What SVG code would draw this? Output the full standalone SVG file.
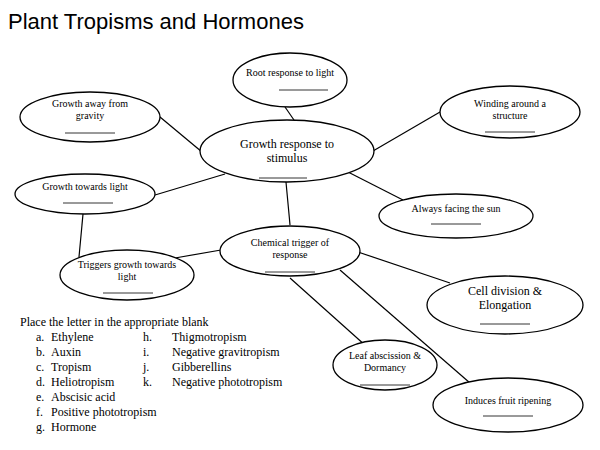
<svg xmlns="http://www.w3.org/2000/svg" width="600" height="450" viewBox="0 0 600 450">
<style>
ellipse{fill:#fff;stroke:#000;stroke-width:1.3}
line{stroke:#000;stroke-width:1.2}
text{font-family:"Liberation Serif",serif;font-size:10px;text-anchor:middle}
.b{stroke:#000;stroke-width:0.8}
.l{text-anchor:start;font-size:12px}
</style>
<rect width="600" height="450" fill="#fff"/>
<text x="8" y="29" style="font-family:'Liberation Sans',sans-serif;font-size:22px;text-anchor:start">Plant Tropisms and Hormones</text>
<g id="connectors">
<line x1="160" y1="117" x2="202" y2="152"/>
<line x1="155" y1="195" x2="225" y2="174"/>
<line x1="285" y1="107" x2="294" y2="120"/>
<line x1="440" y1="112" x2="373" y2="151"/>
<line x1="348" y1="172" x2="403" y2="200"/>
<line x1="286" y1="182" x2="290" y2="225"/>
<line x1="83" y1="214" x2="79" y2="257"/>
<line x1="175" y1="258" x2="221" y2="250"/>
<line x1="358" y1="252" x2="450" y2="283"/>
<line x1="290" y1="278" x2="366" y2="346"/>
<line x1="340" y1="270" x2="470" y2="383"/>
</g>
<g id="n1"><ellipse cx="290" cy="80" rx="57" ry="27"/><text x="290" y="76">Root response to light</text><line class="b" x1="279" y1="90" x2="328" y2="90"/></g>
<g id="n2"><ellipse cx="90" cy="117" rx="70" ry="25"/><text x="90" y="107">Growth away from</text><text x="90" y="119">gravity</text><line class="b" x1="65" y1="133" x2="115" y2="133"/></g>
<g id="n3"><ellipse cx="287" cy="151" rx="87" ry="31"/><text x="287" y="148" style="font-size:12px">Growth response to</text><text x="287" y="162" style="font-size:12px">stimulus</text><line class="b" x1="259" y1="178" x2="307" y2="178"/></g>
<g id="n4"><ellipse cx="85" cy="194" rx="70" ry="20"/><text x="85" y="190">Growth towards light</text><line class="b" x1="63" y1="203" x2="113" y2="203"/></g>
<g id="n5"><ellipse cx="127" cy="275" rx="67" ry="25"/><text x="127" y="268">Triggers growth towards</text><text x="127" y="280">light</text><line class="b" x1="103" y1="293" x2="153" y2="293"/></g>
<g id="n6"><ellipse cx="290" cy="251" rx="70" ry="25"/><text x="290" y="246">Chemical trigger of</text><text x="290" y="258">response</text><line class="b" x1="265" y1="272" x2="315" y2="272"/></g>
<g id="n7"><ellipse cx="510" cy="112" rx="70" ry="26"/><text x="510" y="107">Winding around a</text><text x="510" y="119">structure</text><line class="b" x1="485" y1="132" x2="535" y2="132"/></g>
<g id="n8"><ellipse cx="456" cy="216" rx="77" ry="22"/><text x="456" y="212">Always facing the sun</text><line class="b" x1="431" y1="224" x2="481" y2="224"/></g>
<g id="n9"><ellipse cx="505" cy="305" rx="78" ry="29"/><text x="505" y="295" style="font-size:12px">Cell division &amp;</text><text x="505" y="309" style="font-size:12px">Elongation</text><line class="b" x1="480" y1="324" x2="530" y2="324"/></g>
<g id="n10"><ellipse cx="385" cy="365" rx="52" ry="25"/><text x="385" y="359">Leaf abscission &amp;</text><text x="385" y="371">Dormancy</text><line class="b" x1="360" y1="385" x2="410" y2="385"/></g>
<g id="n11"><ellipse cx="508" cy="405" rx="75" ry="27"/><text x="508" y="404">Induces fruit ripening</text><line class="b" x1="483" y1="416" x2="533" y2="416"/></g>
<g id="legend">
<text class="l" x="20" y="326">Place the letter in the appropriate blank</text>
<text class="l" x="36" y="341">a.</text><text class="l" x="51" y="341">Ethylene</text>
<text class="l" x="36" y="356">b.</text><text class="l" x="51" y="356">Auxin</text>
<text class="l" x="36" y="371">c.</text><text class="l" x="51" y="371">Tropism</text>
<text class="l" x="36" y="386">d.</text><text class="l" x="51" y="386">Heliotropism</text>
<text class="l" x="36" y="401">e.</text><text class="l" x="51" y="401">Abscisic acid</text>
<text class="l" x="36" y="416">f.</text><text class="l" x="51" y="416">Positive phototropism</text>
<text class="l" x="36" y="431">g.</text><text class="l" x="51" y="431">Hormone</text>
<text class="l" x="143" y="341">h.</text><text class="l" x="172" y="341">Thigmotropism</text>
<text class="l" x="143" y="356">i.</text><text class="l" x="172" y="356">Negative gravitropism</text>
<text class="l" x="143" y="371">j.</text><text class="l" x="172" y="371">Gibberellins</text>
<text class="l" x="143" y="386">k.</text><text class="l" x="172" y="386">Negative phototropism</text>
</g>
</svg>
